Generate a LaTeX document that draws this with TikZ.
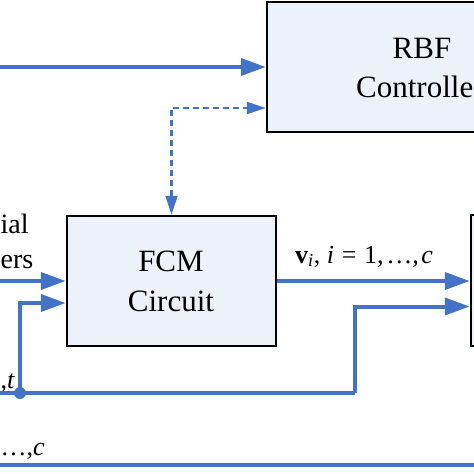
\documentclass[tikz,border=0pt]{standalone}
\usepackage{fontspec}
\setmainfont{Liberation Serif}
\usetikzlibrary{arrows.meta,calc}
\definecolor{lineblue}{RGB}{68,114,196}
\definecolor{boxfill}{RGB}{237,241,249}
\begin{document}
\begin{tikzpicture}[x=1pt,y=-1pt,
  blockbox/.style={draw=black,line width=2.5pt,fill=boxfill,rectangle,inner sep=0pt},
  bigtext/.style={font=\fontsize{31}{37}\selectfont,inner sep=0pt},
  sidetext/.style={font=\fontsize{28}{34}\selectfont,inner sep=0pt},
  smalltext/.style={font=\fontsize{26}{31}\selectfont,inner sep=0pt},
  flow/.style={draw=lineblue,line width=4pt},
  flowarrow/.style={flow,-{Triangle[length=25pt,width=17pt]}},
  dasharrow/.style={draw=lineblue,line width=2.2pt,dash pattern=on 6pt off 4pt,{Triangle[length=19pt,width=12pt]}-{Triangle[length=19pt,width=12pt]}}
]
\useasboundingbox (0,0) rectangle (474,474);
% boxes
\node[blockbox,minimum width=310pt,minimum height=130pt] (rbf) at (422,67) {};
\node[blockbox,minimum width=209pt,minimum height=130pt] (fcm) at (171.5,281) {};
\node[blockbox,minimum width=200pt,minimum height=131pt] (out) at (571,280.5) {};
% box texts
\node[bigtext,anchor=base] (rbft) at (422,58) {RBF};
\node[bigtext,anchor=base west] (ctrl) at (356,97) {Controlle};
\node[bigtext,anchor=base] (fcmt) at (171,271) {FCM};
\node[bigtext,anchor=base] (circ) at (171,311) {Circuit};
% left texts
\node[sidetext,anchor=base west] (ial) at (0.5,233) {ial};
\node[sidetext,anchor=base west] (ers) at (0.5,268) {ers};
\node[smalltext,anchor=base west] (tt) at (0.5,388) {,\textit{t}};
\node[smalltext,anchor=base west] (cc) at (0.5,455) {…,\textit{c}};
\node[smalltext,anchor=base west] (vi) at (295,263) {{\bfseries v}\textsubscript{\itshape i}, \textit{i}\hspace{0.3em}=\hspace{0.3em}1,\hspace{0.1em}…,\hspace{0.1em}\textit{c}};
% coordinates
\coordinate (in1) at (0,67);
\coordinate (in2) at (0,281);
\coordinate (in3) at (0,393);
\coordinate (dot) at (20,393);
\coordinate (turn) at (355,393);
\coordinate (dc) at (171.5,108);
\coordinate (bl) at (-5,465);
\coordinate (br) at (480,465);
% connectors
\draw[flowarrow] (in1) -- (rbf.west);
\draw[dasharrow] (fcm.north) -- (dc) -- (dc -| rbf.west);
\draw[flowarrow] (in2) -- (fcm.west);
\draw[flowarrow] (dot) |- ($(fcm.west)+(0,22)$);
\draw[flow] (in3) -- (dot) -- (turn);
\draw[flowarrow] (turn) |- ($(out.west)+(0,26)$);
\draw[flowarrow] (fcm.east) -- (fcm.east -| out.west);
\draw[flow] (bl) -- (br);
\fill[lineblue] (dot) circle (6pt);
\end{tikzpicture}
\end{document}
